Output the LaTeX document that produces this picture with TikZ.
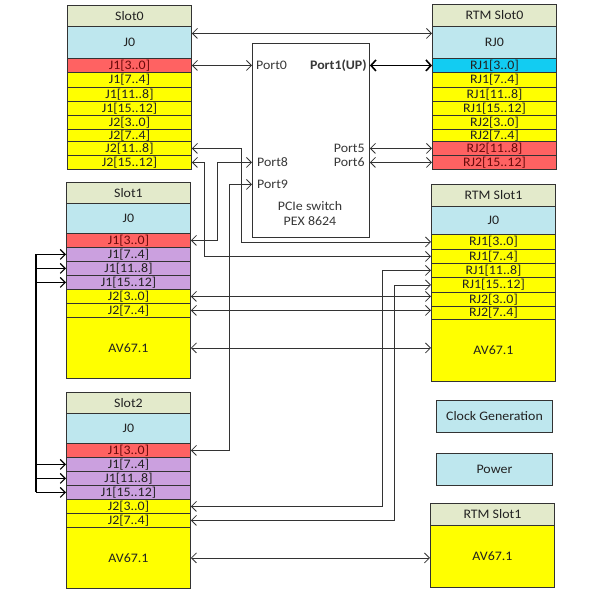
\documentclass[tikz,border=0pt]{standalone}
\usepackage{fontspec}
\setmainfont{Carlito}[FakeStretch=1.07]
\usetikzlibrary{arrows.meta}
\pgfdeclarelayer{bg}
\pgfsetlayers{bg,main}
\definecolor{hdr}{HTML}{E3EACB}
\definecolor{jzero}{HTML}{BEE7EE}
\definecolor{redc}{HTML}{FF6262}
\definecolor{yel}{HTML}{FFFF00}
\definecolor{pur}{HTML}{CBA0DF}
\definecolor{cyn}{HTML}{12CCF2}
\definecolor{ln}{HTML}{333333}
\definecolor{txt}{HTML}{222222}
\definecolor{rtxt}{HTML}{6A0A0A}
\tikzset{
  cell/.style={draw=ln, line width=0.9pt, anchor=north west, inner sep=0pt,
    minimum width=124pt, font=\fontsize{13}{14}\selectfont, text=txt},
  redcell/.style={cell, fill=redc, text=rtxt},
  conn/.style={draw=ln, line width=0.8pt},
  tipb/.tip={Straight Barb[length=5pt,width=10pt]},
  dbl/.style={conn, tipb-tipb},
  dblthick/.style={draw=black, line width=1.6pt, {Straight Barb[length=5pt,width=11pt]}-{Straight Barb[length=5pt,width=11pt]}},
  busarr/.style={draw=black, line width=1.1pt, -{Straight Barb[length=5pt,width=10pt]}},
  plbl/.style={inner sep=0pt, font=\fontsize{13}{15}\selectfont, text=txt!90},
}
\begin{document}
\begin{tikzpicture}[x=1pt,y=-1pt]
\fill[white] (0,0) rectangle (595,594);
\useasboundingbox (0,0) rectangle (595,594);

% ---------- Slot0 ----------
\node[cell, fill=hdr, minimum height=21pt] (s0h) at (67,5) {Slot0};
\node[cell, fill=jzero, minimum height=32pt] (s0j0) at (67,26) {J0};
\node[redcell, minimum height=14pt] (s0j13) at (67,58) {J1[3..0]};
\node[cell, fill=yel, minimum height=15pt] (s0j17) at (67,72) {J1[7..4]};
\node[cell, fill=yel, minimum height=14pt] (s0j111) at (67,87) {J1[11..8]};
\node[cell, fill=yel, minimum height=14pt] (s0j115) at (67,101) {J1[15..12]};
\node[cell, fill=yel, minimum height=14pt] (s0j23) at (67,115) {J2[3..0]};
\node[cell, fill=yel, minimum height=12pt] (s0j27) at (67,129) {J2[7..4]};
\node[cell, fill=yel, minimum height=14pt] (s0j211) at (67,141) {J2[11..8]};
\node[cell, fill=yel, minimum height=14pt] (s0j215) at (67,155) {J2[15..12]};

% ---------- RTM Slot0 ----------
\node[cell, fill=hdr, minimum height=22pt] (rs0h) at (432,4) {RTM Slot0};
\node[cell, fill=jzero, minimum height=32pt] (rs0j0) at (432,26) {RJ0};
\node[cell, fill=cyn, minimum height=14pt] (rs0j13) at (432,58) {RJ1[3..0]};
\node[cell, fill=yel, minimum height=15pt] (rs0j17) at (432,72) {RJ1[7..4]};
\node[cell, fill=yel, minimum height=14pt] (rs0j111) at (432,87) {RJ1[11..8]};
\node[cell, fill=yel, minimum height=14pt] (rs0j115) at (432,101) {RJ1[15..12]};
\node[cell, fill=yel, minimum height=14pt] (rs0j23) at (432,115) {RJ2[3..0]};
\node[cell, fill=yel, minimum height=12pt] (rs0j27) at (432,129) {RJ2[7..4]};
\node[redcell, minimum height=14pt] (rs0j211) at (432,141) {RJ2[11..8]};
\node[redcell, minimum height=14pt] (rs0j215) at (432,155) {RJ2[15..12]};

% ---------- Slot1 ----------
\node[cell, fill=hdr, minimum height=21pt] (s1h) at (66,182) {Slot1};
\node[cell, fill=jzero, minimum height=30pt] (s1j0) at (66,203) {J0};
\node[redcell, minimum height=14pt] (s1j13) at (66,233) {J1[3..0]};
\node[cell, fill=pur, minimum height=14pt] (s1j17) at (66,247) {J1[7..4]};
\node[cell, fill=pur, minimum height=14pt] (s1j111) at (66,261) {J1[11..8]};
\node[cell, fill=pur, minimum height=14pt] (s1j115) at (66,275) {J1[15..12]};
\node[cell, fill=yel, minimum height=14pt] (s1j23) at (66,289) {J2[3..0]};
\node[cell, fill=yel, minimum height=14pt] (s1j27) at (66,303) {J2[7..4]};
\node[cell, fill=yel, minimum height=61pt] (s1av) at (66,317) {AV67.1};

% ---------- RTM Slot1 ----------
\node[cell, fill=hdr, minimum height=22pt] (rs1h) at (431,184) {RTM Slot1};
\node[cell, fill=jzero, minimum height=28pt] (rs1j0) at (431,206) {J0};
\node[cell, fill=yel, minimum height=15pt] (rs1j13) at (431,234) {RJ1[3..0]};
\node[cell, fill=yel, minimum height=14pt] (rs1j17) at (431,249) {RJ1[7..4]};
\node[cell, fill=yel, minimum height=14pt] (rs1j111) at (431,263) {RJ1[11..8]};
\node[cell, fill=yel, minimum height=15pt] (rs1j115) at (431,277) {RJ1[15..12]};
\node[cell, fill=yel, minimum height=14pt] (rs1j23) at (431,292) {RJ2[3..0]};
\node[cell, fill=yel, minimum height=13pt] (rs1j27) at (431,306) {RJ2[7..4]};
\node[cell, fill=yel, minimum height=62pt] (rs1av) at (431,319) {AV67.1};

% ---------- Slot2 ----------
\node[cell, fill=hdr, minimum height=21pt] (s2h) at (66,392) {Slot2};
\node[cell, fill=jzero, minimum height=30pt] (s2j0) at (66,413) {J0};
\node[redcell, minimum height=14pt] (s2j13) at (66,443) {J1[3..0]};
\node[cell, fill=pur, minimum height=14pt] (s2j17) at (66,457) {J1[7..4]};
\node[cell, fill=pur, minimum height=14pt] (s2j111) at (66,471) {J1[11..8]};
\node[cell, fill=pur, minimum height=14pt] (s2j115) at (66,485) {J1[15..12]};
\node[cell, fill=yel, minimum height=14pt] (s2j23) at (66,499) {J2[3..0]};
\node[cell, fill=yel, minimum height=14pt] (s2j27) at (66,513) {J2[7..4]};
\node[cell, fill=yel, minimum height=61pt] (s2av) at (66,527) {AV67.1};

% ---------- bottom RTM Slot1 ----------
\node[cell, fill=hdr, minimum height=22pt] (rs2h) at (430,503) {RTM Slot1};
\node[cell, fill=yel, minimum height=62pt] (rs2av) at (430,525) {AV67.1};

% ---------- Clock / Power ----------
\node[cell, fill=jzero, minimum width=116pt, minimum height=32pt] (clk) at (436,400) {Clock Generation};
\node[cell, fill=jzero, minimum width=116pt, minimum height=32pt] (pwr) at (436,453) {Power};

% ---------- PCIe switch ----------
\node[draw=ln, line width=0.9pt, fill=white, fill opacity=0.78, anchor=north west,
      minimum width=117pt, minimum height=194pt, inner sep=0pt] (sw) at (252,43) {};
\coordinate (p0) at (sw.west |- s0j13.east);
\coordinate (p1) at (sw.east |- s0j13.east);
\coordinate (p5) at (sw.east |- rs0j211.west);
\coordinate (p6) at (sw.east |- rs0j215.west);
\coordinate (p8) at (sw.west |- s0j215.east);
\coordinate (p9) at ([yshift=-22pt]p8);
\node[plbl, anchor=west] (lp0) at ([xshift=4pt]p0) {Port0};
\node[plbl, anchor=east, font=\fontsize{13}{15}\selectfont\bfseries] (lp1) at ([xshift=-3pt]p1) {Port1(UP)};
\node[plbl, anchor=east] (lp5) at ([xshift=-5pt]p5) {Port5};
\node[plbl, anchor=east] (lp6) at ([xshift=-5pt]p6) {Port6};
\node[plbl, anchor=west] (lp8) at ([xshift=5pt]p8) {Port8};
\node[plbl, anchor=west] (lp9) at ([xshift=5pt]p9) {Port9};
\node[plbl, align=center] (swl) at (310,214) {PCIe switch\\PEX 8624};

% ---------- lines behind the switch ----------
\begin{pgfonlayer}{bg}
\foreach \r in {17,111,115,23,27}{
  \draw[dbl] (s0j\r.east) -- (s0j\r.east -| rs0j\r.west);
}
\end{pgfonlayer}

% ---------- connectors ----------
\coordinate (j0a) at ([yshift=9pt]s0j0.east);
\draw[dbl] (j0a) -- (j0a -| rs0j0.west);
\draw[dbl] (s0j13.east) -- (p0);
\draw[dblthick] (p1) -- (rs0j13.west);
\draw[dbl] (p5) -- (rs0j211.west);
\draw[dbl] (p6) -- (rs0j215.west);
\draw[dbl] (s0j211.east) -- ++(49,0) |- (rs1j13.west);
\draw[dbl] (s0j215.east) -- ++(12,0) |- (rs1j17.west);
\draw[dbl] (s1j13.east) -- ++(26,0) |- (p8);
\draw[dbl] (s2j13.east) -- ++(38,0) |- (p9);
\draw[dbl] (s2j23.east) -- ++(191,0) |- (rs1j111.west);
\draw[dbl] (s2j27.east) -- ++(203,0) |- (rs1j115.west);
\draw[dbl] (s1j23.east) -- (s1j23.east -| rs1j23.west);
\draw[dbl] (s1j27.east) -- (s1j27.east -| rs1j27.west);
\draw[dbl] (s1av.east) -- (s1av.east -| rs1av.west);
\draw[dbl] (s2av.east) -- (s2av.east -| rs2av.west);

% ---------- left bus ----------
\coordinate (bus) at (36,0);
\draw[black, line width=1.8pt] (bus |- s1j17.west) -- (bus |- s2j115.west);
\foreach \c in {s1j17,s1j111,s1j115,s2j17,s2j111,s2j115}{
  \draw[busarr] (bus |- \c.west) -- (\c.west);
}
\end{tikzpicture}
\end{document}
